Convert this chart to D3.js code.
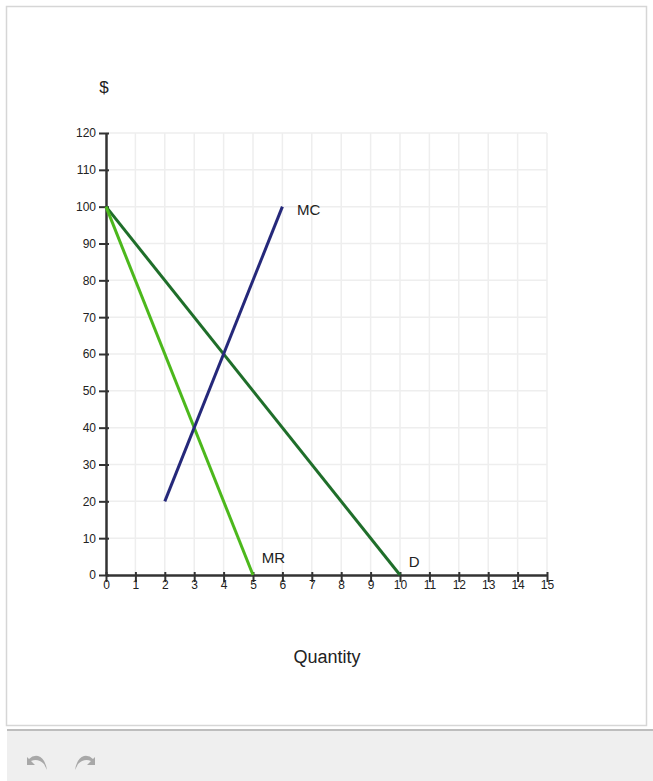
<!DOCTYPE html>
<html><head><meta charset="utf-8">
<script src="https://cdn.jsdelivr.net/npm/d3@7"></script>
<style>body{margin:0;background:#fff;font-family:Arial,"Liberation Sans",sans-serif}</style>
</head><body>
<script>
const xTicks = d3.range(0,16);
const yTicks = d3.range(0,121,10);
const demand = [{q:0,p:100},{q:10,p:0}];
const mr = [{q:0,p:100},{q:5,p:0}];
const mc = [{q:2,p:20},{q:6,p:100}];
const labels = [{t:"MC",q:6.5,p:99},{t:"MR",q:5.3,p:4.5},{t:"D",q:10.3,p:3.5}];

const svg = d3.select("body").append("svg").attr("width",653).attr("height",781);
svg.append("rect").attr("x",6.5).attr("y",6.5).attr("width",640).attr("height",719)
  .attr("fill","#fff").attr("stroke","#d6d6d6").attr("stroke-width",1.5);
svg.append("rect").attr("x",7).attr("y",729).attr("width",646).attr("height",52).attr("fill","#efefef");
svg.append("rect").attr("x",7).attr("y",729).attr("width",646).attr("height",2).attr("fill","#bdbdbd");
svg.append("path").attr("d","M27 757 L27 765 L35 765 L31 761 Q38 758 44 764 L47 770 Q45 758 38 756 Q33 755 29 759 Z").attr("fill","#a8a8a8");
svg.append("path").attr("d","M95 757 L95 765 L87 765 L91 761 Q84 758 78 764 L75 770 Q77 758 84 756 Q89 755 93 759 Z").attr("fill","#a8a8a8");

const x = d3.scaleLinear().domain([0,15]).range([106,547]);
const y = d3.scaleLinear().domain([0,120]).range([575,133]);

const g = svg.append("g");
g.selectAll(".vg").data(xTicks.slice(1)).join("line").attr("x1",d=>x(d)).attr("x2",d=>x(d))
  .attr("y1",y(0)).attr("y2",y(120)).attr("stroke","#eeeeee").attr("stroke-width",1.5);
g.selectAll(".hg").data(yTicks.slice(1)).join("line").attr("y1",d=>y(d)).attr("y2",d=>y(d))
  .attr("x1",x(0)).attr("x2",x(15)).attr("stroke","#eeeeee").attr("stroke-width",1.5);

const xa = svg.append("g").attr("transform",`translate(0,${y(0)})`)
  .call(d3.axisBottom(x).tickValues(xTicks).tickSize(7).tickSizeOuter(0));
const ya = svg.append("g").attr("transform",`translate(${x(0)},0)`)
  .call(d3.axisLeft(y).tickValues(yTicks).tickSize(7).tickSizeOuter(0));
[xa,ya].forEach(a=>{a.attr("font-size",12).attr("font-family","Arial,Liberation Sans");
  a.select(".domain").attr("stroke","#333").attr("stroke-width",2.5);
  a.selectAll(".tick line").attr("stroke","#333").attr("stroke-width",2);
  a.selectAll("text").attr("fill","#222");});
xa.selectAll(".tick line").attr("y1",-3);
xa.selectAll("text").attr("dy","0.3em");
ya.selectAll(".tick line").attr("x1",3);

const line = d3.line().x(d=>x(d.q)).y(d=>y(d.p));
svg.append("path").attr("d",line(demand)).attr("stroke","#1f6e2a").attr("stroke-width",3).attr("fill","none");
svg.append("path").attr("d",line(mr)).attr("stroke","#4cb81c").attr("stroke-width",3).attr("fill","none");
svg.append("path").attr("d",line(mc)).attr("stroke","#25287a").attr("stroke-width",3).attr("fill","none");

svg.selectAll(".lb").data(labels).join("text").attr("x",d=>x(d.q)).attr("y",d=>y(d.p)+5)
  .attr("font-size",15).attr("fill","#222").text(d=>d.t);
svg.append("text").attr("x",104).attr("y",93).attr("text-anchor","middle").attr("font-size",17).attr("fill","#222").text("$");
svg.append("text").attr("x",327).attr("y",663).attr("text-anchor","middle").attr("font-size",18).attr("fill","#222").text("Quantity");
</script></body></html>
